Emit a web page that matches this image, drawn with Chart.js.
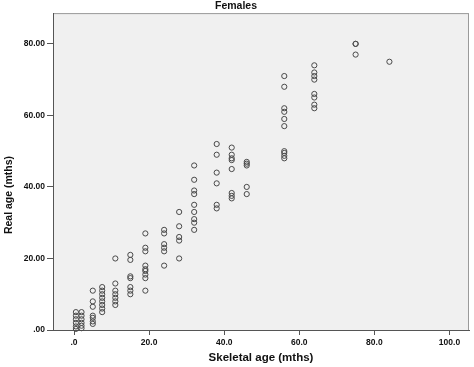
<!DOCTYPE html>
<html>
<head>
<meta charset="utf-8">
<script src="https://cdn.jsdelivr.net/npm/chart.js@4"></script>
<style>
  body { margin: 0; background: #fff; }
</style>
</head>
<body>
<canvas id="myChart" width="474" height="367"></canvas>
<script>
// skeletal age columns (x) and the real ages measured at each one (y)
const skeletalAge = [0.5, 2, 5, 7.5, 11, 15, 19, 24, 28, 32, 38, 42, 46, 56, 64, 75, 84];
const realAge = [
  [5, 4, 3, 2, 1, 0.3],
  [5, 4, 3, 2, 1.2, 0.5],
  [11, 8, 6.5, 4, 3.4, 2.4, 1.7],
  [12, 11, 10, 9, 8, 7, 6, 5],
  [20, 13, 11, 10, 9, 8, 7],
  [21, 19.6, 15, 14.5, 12, 11, 10],
  [27, 23, 22, 18, 17, 16.5, 15.5, 14.5, 11],
  [28, 27, 24, 23, 22, 18],
  [33, 29, 26, 25, 20],
  [46, 42, 39, 38, 35, 33, 31, 30, 28],
  [52, 49, 44, 41, 35, 34],
  [51, 49, 48, 47.5, 45, 38.3, 37.5, 36.8],
  [47, 46.5, 46, 40, 38],
  [71, 68, 62, 61, 59, 57, 50, 49.5, 48.7, 48],
  [74, 72, 71, 70, 66, 65, 63, 62],
  [80, 80, 77],
  [75],
];
const xTicks = [0, 20, 40, 60, 80, 100];
const yTicks = [0, 20, 40, 60, 80];

const points = [];
skeletalAge.forEach((x, i) => {
  realAge[i].forEach((y) => points.push({ x: x, y: y }));
});

const ctx = document.getElementById("myChart").getContext("2d");

// grey plot box + the rotated y title
const plotBox = {
  id: "plotBox",
  beforeDraw(chart) {
    const a = chart.chartArea;
    const c = chart.ctx;
    c.save();
    c.fillStyle = "#f0f0f0";
    c.fillRect(a.left, a.top, a.right - a.left, a.bottom - a.top);
    c.strokeStyle = "#9a9a9a";
    c.lineWidth = 1;
    c.strokeRect(a.left + 0.5, a.top + 0.5, a.right - a.left - 1, a.bottom - a.top);
    c.restore();
  },
  afterDraw(chart) {
    const c = chart.ctx;
    c.save();
    c.translate(9, 195);
    c.rotate(-Math.PI / 2);
    c.font = "bold 10.5px 'Liberation Sans', Arial, sans-serif";
    c.fillStyle = "#111";
    c.textAlign = "center";
    c.textBaseline = "middle";
    c.fillText("Real age (mths)", 0, 0);
    c.restore();
  },
};

const tickFont = { family: "'Liberation Sans', Arial, sans-serif", size: 8.5, weight: "bold" };

const config = {
  type: "scatter",
  data: {
    datasets: [
      {
        data: points,
        pointRadius: 2.6,
        pointBorderWidth: 1,
        pointBorderColor: "#4a4a4a",
        pointBackgroundColor: "rgba(0,0,0,0)",
        clip: false,
      },
    ],
  },
  options: {
    responsive: false,
    animation: false,
    layout: { padding: { left: 0, right: 2, top: 0, bottom: 0 } },
    plugins: {
      legend: { display: false },
      tooltip: { enabled: false },
      title: {
        display: true,
        text: "Females",
        color: "#111",
        font: { family: "'Liberation Sans', Arial, sans-serif", size: 10.5, weight: "bold" },
        padding: { top: 0, bottom: 0.5 },
      },
    },
    scales: {
      x: {
        type: "linear",
        min: -5.6,
        max: 105.2,
        afterBuildTicks: (scale) => {
          scale.ticks = xTicks.map((v) => ({ value: v }));
        },
        afterFit: (scale) => {
          scale.height = 37;
        },
        grid: { drawOnChartArea: false, tickLength: 5, color: "#555" },
        border: { color: "#555" },
        ticks: {
          color: "#111",
          font: tickFont,
          padding: 3,
          maxRotation: 0,
          callback: (v) => (v === 0 ? ".0" : v.toFixed(1)),
        },
        title: {
          display: true,
          text: "Skeletal age (mths)",
          color: "#111",
          font: { family: "'Liberation Sans', Arial, sans-serif", size: 11.5, weight: "bold" },
          padding: { top: 0, bottom: 2 },
        },
      },
      y: {
        type: "linear",
        min: 0,
        max: 88.6,
        afterBuildTicks: (scale) => {
          scale.ticks = yTicks.map((v) => ({ value: v }));
        },
        afterFit: (scale) => {
          scale.width = 53;
        },
        grid: { drawOnChartArea: false, tickLength: 6, color: "#555" },
        border: { color: "#555" },
        ticks: {
          color: "#111",
          font: tickFont,
          padding: 2,
          callback: (v) => (v === 0 ? ".00" : v.toFixed(2)),
        },
      },
    },
  },
  plugins: [plotBox],
};

const myChart = new Chart(ctx, config);
</script>
</body>
</html>
